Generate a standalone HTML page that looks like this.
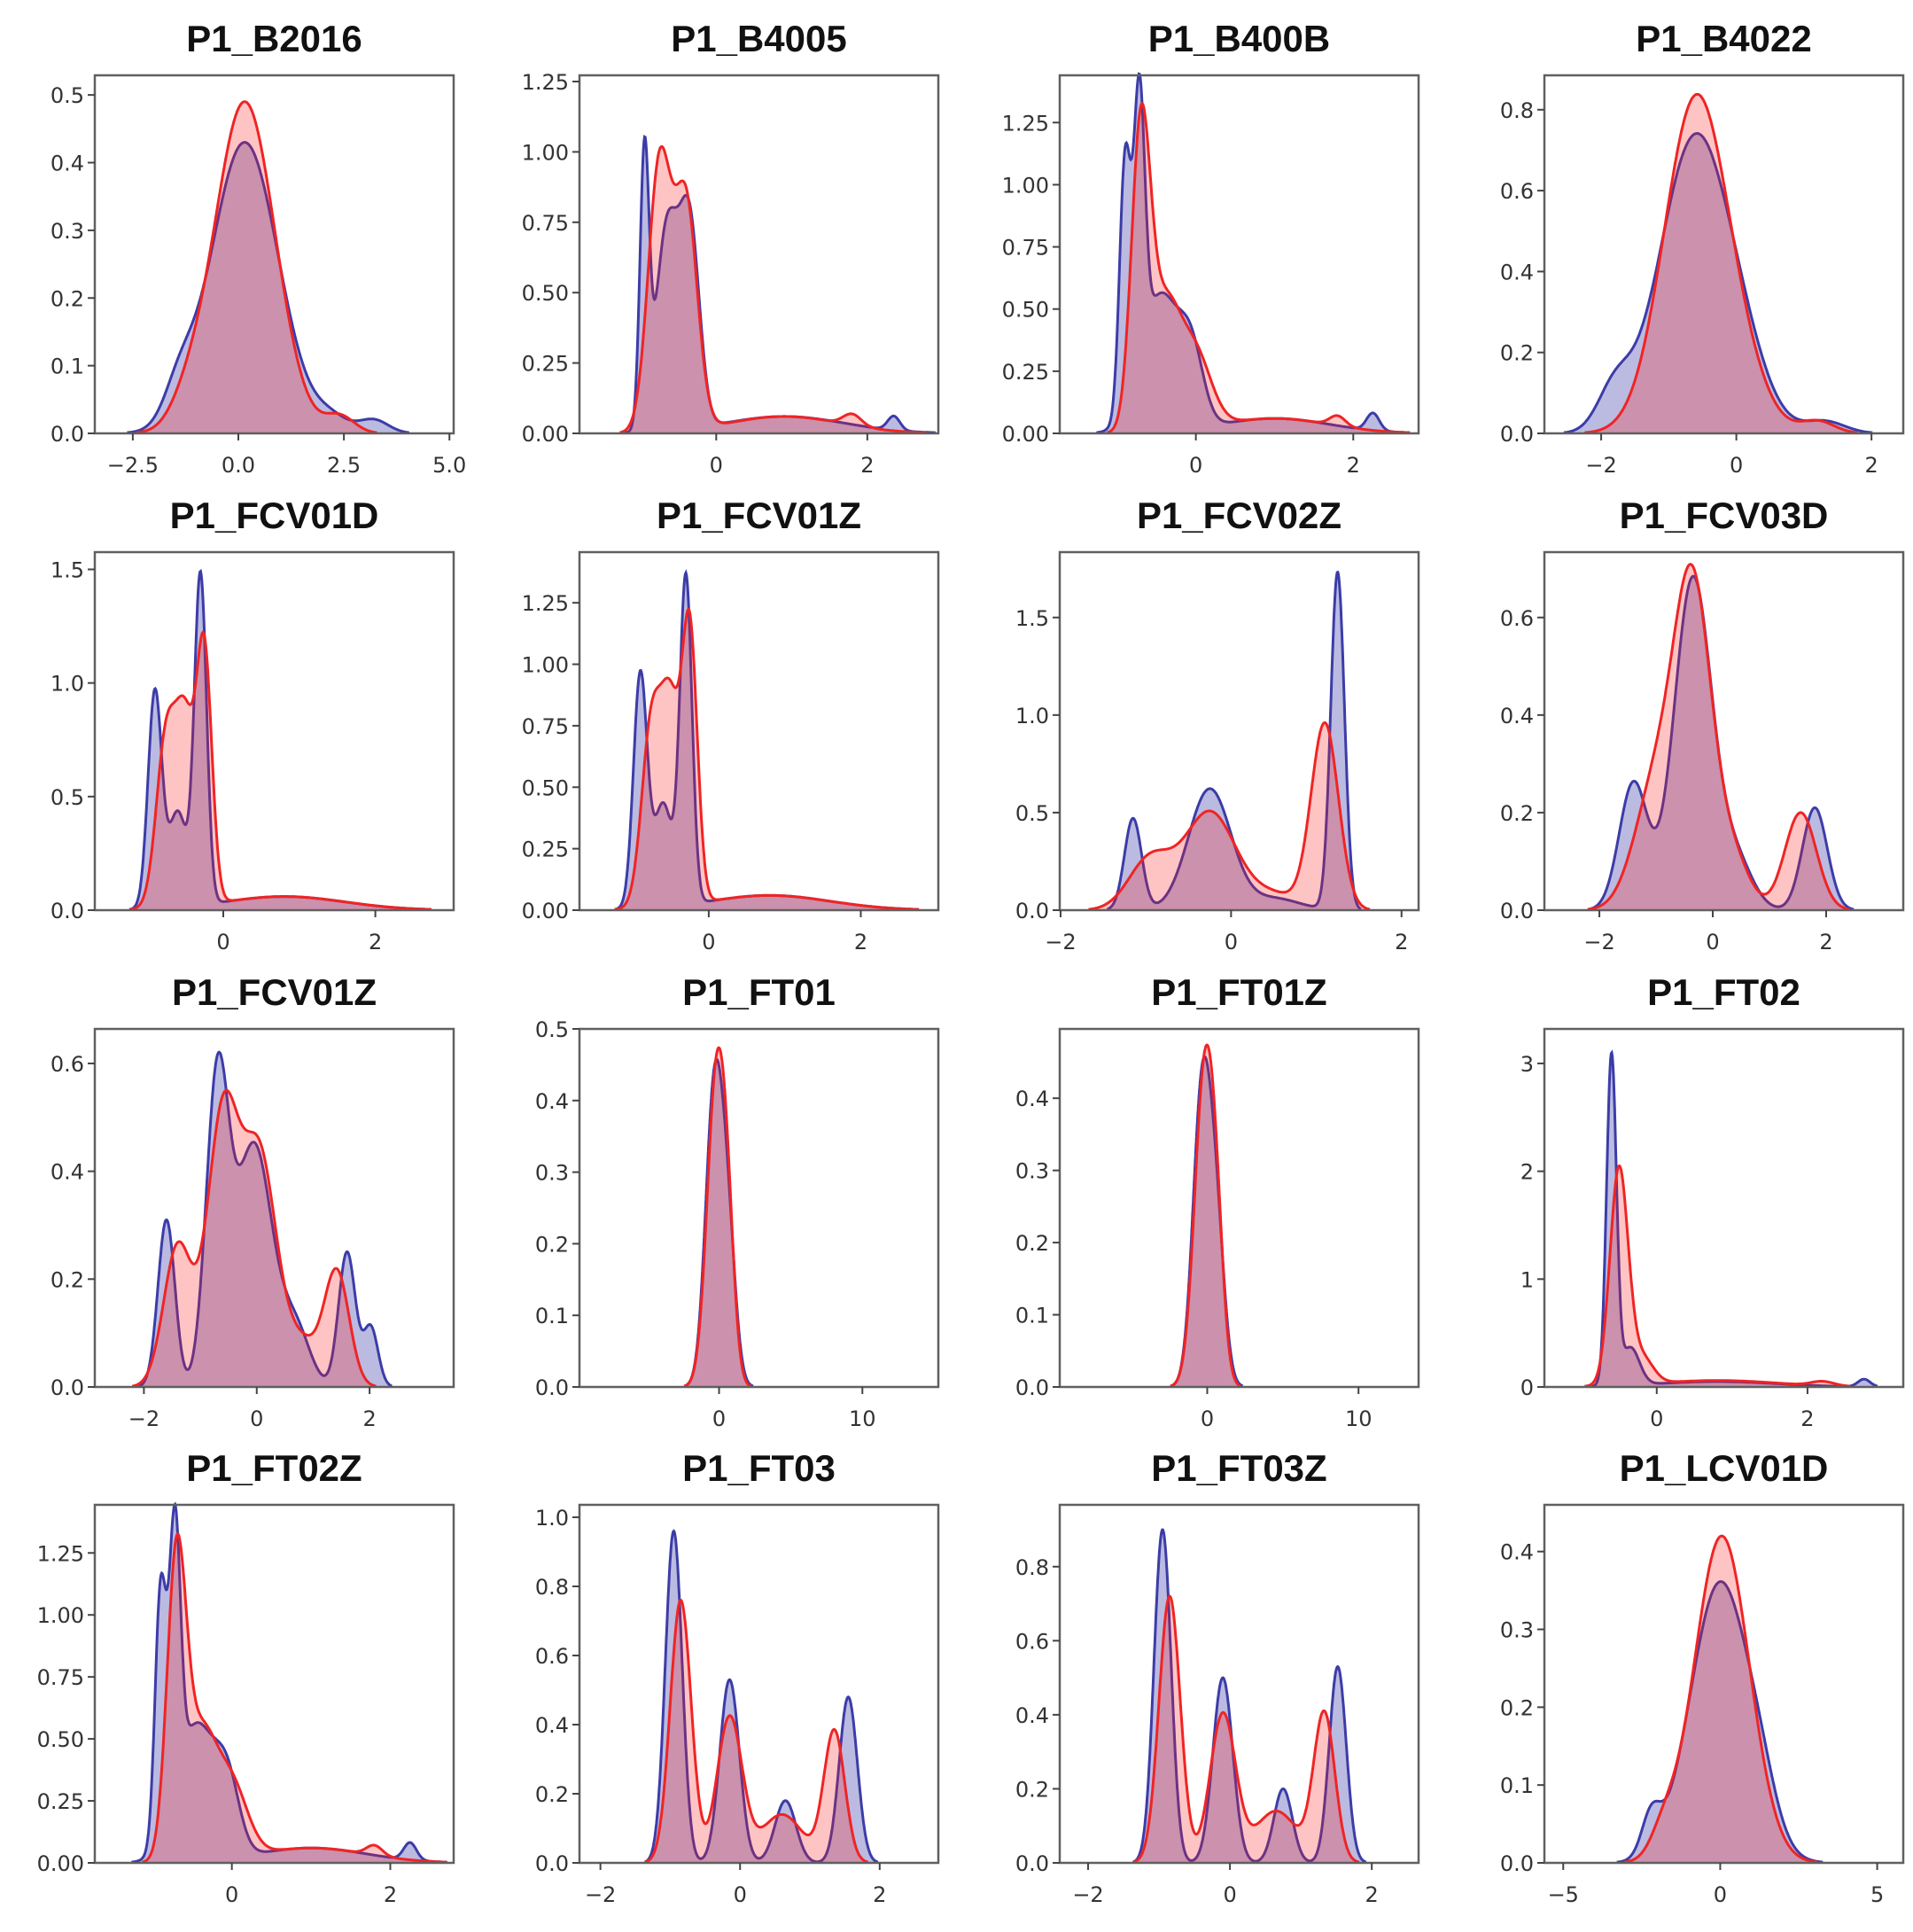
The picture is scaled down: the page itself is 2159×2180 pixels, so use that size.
<!DOCTYPE html>
<html><head><meta charset="utf-8">
<style>
html,body{margin:0;padding:0;background:#fff;}
svg{display:block;}
</style></head>
<body>
<svg id="s" xmlns="http://www.w3.org/2000/svg" width="2159" height="2180" viewBox="0 0 2159 2180"></svg>
<script>
const L=[107,654,1196,1743], T=[85,623,1161,1698], W=405, H=404;
const P=[
 {t:"P1_B2016",x:[-3.4,5.1],y:0.529,xt:[[-2.5,"\u22122.5"],[0,"0.0"],[2.5,"2.5"],[5,"5.0"]],yt:[[0,"0.0"],[.1,"0.1"],[.2,"0.2"],[.3,"0.3"],[.4,"0.4"],[.5,"0.5"]],
  b:[[0.43,0.15,0.8],[0.05,-1.4,0.35],[0.02,3.2,0.35],[0.02,2.2,0.4]],r:[[0.49,0.15,0.72],[0.03,-1.2,0.4],[0.025,2.4,0.35]]},
 {t:"P1_B4005",x:[-1.81,2.94],y:1.272,xt:[[0,"0"],[2,"2"]],yt:[[0,"0.00"],[.25,"0.25"],[.5,"0.50"],[.75,"0.75"],[1,"1.00"],[1.25,"1.25"]],
  b:[[0.95,-0.95,0.06],[0.72,-0.65,0.15],[0.7,-0.35,0.13],[0.06,0.9,0.8],[0.05,2.35,0.08]],r:[[0.95,-0.75,0.15],[0.8,-0.4,0.15],[0.06,0.9,0.75],[0.04,1.8,0.12]]},
 {t:"P1_B400B",x:[-1.73,2.83],y:1.44,xt:[[0,"0"],[2,"2"]],yt:[[0,"0.00"],[.25,"0.25"],[.5,"0.50"],[.75,"0.75"],[1,"1.00"],[1.25,"1.25"]],
  b:[[1.0,-0.9,0.07],[1.1,-0.72,0.07],[0.55,-0.45,0.25],[0.25,-0.05,0.15],[0.06,1,0.7],[0.07,2.25,0.08]],r:[[1.15,-0.7,0.12],[0.5,-0.4,0.2],[0.28,0,0.2],[0.06,1,0.7],[0.04,1.8,0.1]]},
 {t:"P1_B4022",x:[-2.84,2.47],y:0.885,xt:[[-2,"\u22122"],[0,"0"],[2,"2"]],yt:[[0,"0.0"],[.2,"0.2"],[.4,"0.4"],[.6,"0.6"],[.8,"0.8"]],
  b:[[0.72,-0.62,0.52],[0.1,-1.8,0.25],[0.1,0.1,0.4],[0.03,1.3,0.3]],r:[[0.82,-0.6,0.47],[0.08,0.1,0.4],[0.03,1.2,0.25]]},
 {t:"P1_FCV01D",x:[-1.69,3.03],y:1.576,xt:[[0,"0"],[2,"2"]],yt:[[0,"0.0"],[.5,"0.5"],[1,"1.0"],[1.5,"1.5"]],
  b:[[0.95,-0.9,0.09],[1.45,-0.3,0.08],[0.42,-0.6,0.12],[0.06,0.8,0.8]],r:[[0.75,-0.75,0.13],[0.75,-0.5,0.12],[1.1,-0.25,0.1],[0.06,0.8,0.8]]},
 {t:"P1_FCV01Z",x:[-1.70,3.02],y:1.456,xt:[[0,"0"],[2,"2"]],yt:[[0,"0.00"],[.25,"0.25"],[.5,"0.50"],[.75,"0.75"],[1,"1.00"],[1.25,"1.25"]],
  b:[[0.95,-0.9,0.09],[1.33,-0.3,0.08],[0.42,-0.6,0.12],[0.06,0.8,0.8]],r:[[0.75,-0.75,0.13],[0.75,-0.5,0.12],[1.1,-0.25,0.1],[0.06,0.8,0.8]]},
 {t:"P1_FCV02Z",x:[-2.01,2.2],y:1.835,xt:[[-2,"\u22122"],[0,"0"],[2,"2"]],yt:[[0,"0.0"],[.5,"0.5"],[1,"1.0"],[1.5,"1.5"]],
  b:[[0.47,-1.15,0.1],[0.62,-0.25,0.25],[1.73,1.25,0.08],[0.06,0.5,0.3]],r:[[0.26,-0.95,0.25],[0.5,-0.25,0.3],[0.95,1.1,0.16],[0.08,0.5,0.3]]},
 {t:"P1_FCV03D",x:[-2.97,3.36],y:0.734,xt:[[-2,"\u22122"],[0,"0"],[2,"2"]],yt:[[0,"0.0"],[.2,"0.2"],[.4,"0.4"],[.6,"0.6"]],
  b:[[0.26,-1.4,0.25],[0.68,-0.35,0.33],[0.1,0.4,0.3],[0.21,1.8,0.22]],r:[[0.25,-1.0,0.38],[0.64,-0.35,0.33],[0.1,0.35,0.3],[0.2,1.55,0.28]]},
 {t:"P1_FCV01Z",x:[-2.87,3.49],y:0.664,xt:[[-2,"\u22122"],[0,"0"],[2,"2"]],yt:[[0,"0.0"],[.2,"0.2"],[.4,"0.4"],[.6,"0.6"]],
  b:[[0.31,-1.6,0.15],[0.55,-0.7,0.2],[0.45,-0.05,0.33],[0.1,0.7,0.25],[0.25,1.6,0.15],[0.11,2.02,0.13]],r:[[0.26,-1.4,0.25],[0.5,-0.6,0.28],[0.42,0.05,0.3],[0.08,0.8,0.3],[0.21,1.42,0.22]]},
 {t:"P1_FT01",x:[-9.74,15.3],y:0.5,xt:[[0,"0"],[10,"10"]],yt:[[0,"0.0"],[.1,"0.1"],[.2,"0.2"],[.3,"0.3"],[.4,"0.4"],[.5,"0.5"]],
  b:[[0.4,-0.35,0.6],[0.2,0.6,0.55]],r:[[0.42,-0.2,0.65],[0.15,0.6,0.5]]},
 {t:"P1_FT01Z",x:[-9.75,13.97],y:0.496,xt:[[0,"0"],[10,"10"]],yt:[[0,"0.0"],[.1,"0.1"],[.2,"0.2"],[.3,"0.3"],[.4,"0.4"]],
  b:[[0.4,-0.35,0.6],[0.2,0.6,0.55]],r:[[0.42,-0.2,0.65],[0.15,0.6,0.5]]},
 {t:"P1_FT02",x:[-1.49,3.27],y:3.32,xt:[[0,"0"],[2,"2"]],yt:[[0,"0"],[1,"1"],[2,"2"],[3,"3"]],
  b:[[3.05,-0.6,0.065],[0.35,-0.35,0.12],[0.05,0.8,0.8],[0.07,2.75,0.08]],r:[[2.0,-0.5,0.12],[0.25,-0.2,0.15],[0.06,0.8,0.8],[0.04,2.2,0.15]]},
 {t:"P1_FT02Z",x:[-1.73,2.8],y:1.444,xt:[[0,"0"],[2,"2"]],yt:[[0,"0.00"],[.25,"0.25"],[.5,"0.50"],[.75,"0.75"],[1,"1.00"],[1.25,"1.25"]],
  b:[[1.0,-0.9,0.07],[1.1,-0.72,0.07],[0.55,-0.45,0.25],[0.25,-0.05,0.15],[0.06,1,0.7],[0.07,2.25,0.08]],r:[[1.15,-0.7,0.12],[0.5,-0.4,0.2],[0.28,0,0.2],[0.06,1,0.7],[0.04,1.8,0.1]]},
 {t:"P1_FT03",x:[-2.3,2.84],y:1.036,xt:[[-2,"\u22122"],[0,"0"],[2,"2"]],yt:[[0,"0.0"],[.2,"0.2"],[.4,"0.4"],[.6,"0.6"],[.8,"0.8"],[1,"1.0"]],
  b:[[0.96,-0.95,0.12],[0.53,-0.15,0.14],[0.18,0.65,0.15],[0.48,1.55,0.13]],r:[[0.76,-0.85,0.15],[0.42,-0.15,0.18],[0.14,0.6,0.3],[0.38,1.35,0.15]]},
 {t:"P1_FT03Z",x:[-2.4,2.66],y:0.967,xt:[[-2,"\u22122"],[0,"0"],[2,"2"]],yt:[[0,"0.0"],[.2,"0.2"],[.4,"0.4"],[.6,"0.6"],[.8,"0.8"]],
  b:[[0.9,-0.95,0.12],[0.5,-0.1,0.14],[0.2,0.75,0.13],[0.53,1.52,0.12]],r:[[0.72,-0.85,0.15],[0.4,-0.1,0.18],[0.14,0.65,0.3],[0.4,1.33,0.15]]},
 {t:"P1_LCV01D",x:[-5.6,5.83],y:0.46,xt:[[-5,"\u22125"],[0,"0"],[5,"5"]],yt:[[0,"0.0"],[.1,"0.1"],[.2,"0.2"],[.3,"0.3"],[.4,"0.4"]],
  b:[[0.36,0,0.95],[0.05,-2.2,0.3],[0.04,1.3,0.5]],r:[[0.42,0.05,0.88],[0.03,-1.8,0.4]]}
];
function dens(c,x){let s=0;for(const[h,m,sd]of c)s+=h*Math.exp(-0.5*((x-m)/sd)**2);return s;}
let out="";
P.forEach((p,i)=>{
 const l=L[i%4],t=T[Math.floor(i/4)],b=t+H;
 const X=v=>l+(v-p.x[0])/(p.x[1]-p.x[0])*W, Y=v=>b-v/p.y*H;
 out+=`<text x="${l+W/2}" y="${t-27}" text-anchor="middle" font-family="Liberation Sans, sans-serif" font-weight="bold" font-size="42" fill="#111">${p.t}</text>`;
 for(const [c,fill,stroke] of [[p.b,"rgba(50,50,165,0.33)","#3c3ca8"],[p.r,"rgba(250,20,20,0.25)","#f02424"]]){
  const N=500;let pts=[];let x0=null,x1=null;
  for(let k=0;k<=N;k++){const x=p.x[0]+(p.x[1]-p.x[0])*k/N;const d=dens(c,x);if(d>0.002*p.y){if(x0===null)x0=x;x1=x;}}
  for(let k=0;k<=N;k++){const x=x0+(x1-x0)*k/N;pts.push(X(x).toFixed(1)+","+Y(dens(c,x)).toFixed(1));}
  out+=`<polygon points="${X(x0).toFixed(1)},${b} ${pts.join(" ")} ${X(x1).toFixed(1)},${b}" fill="${fill}"/>`;
  out+=`<polyline points="${pts.join(" ")}" fill="none" stroke="${stroke}" stroke-width="3"/>`;
 }
 out+=`<rect x="${l}" y="${t}" width="${W}" height="${H}" fill="none" stroke="#606060" stroke-width="2.5"/>`;
 for(const[v,s]of p.xt){const x=X(v);out+=`<line x1="${x}" y1="${b}" x2="${x}" y2="${b+8}" stroke="#444" stroke-width="2"/><text x="${x}" y="${b+44}" text-anchor="middle" font-family="DejaVu Sans, sans-serif" font-size="24" fill="#333">${s}</text>`;}
 for(const[v,s]of p.yt){const y=Y(v);out+=`<line x1="${l-8}" y1="${y}" x2="${l}" y2="${y}" stroke="#444" stroke-width="2"/><text x="${l-12}" y="${y+9}" text-anchor="end" font-family="DejaVu Sans, sans-serif" font-size="24" fill="#333">${s}</text>`;}
});
document.getElementById("s").innerHTML=out;
</script>
</body></html>
